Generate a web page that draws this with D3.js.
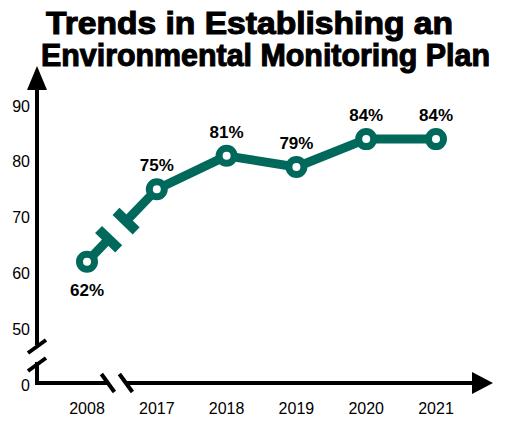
<!DOCTYPE html>
<html>
<head>
<meta charset="utf-8">
<script src="https://cdn.jsdelivr.net/npm/d3@7"></script>
<style>
  html, body { margin: 0; padding: 0; background: #fff; }
  text { font-family: "Liberation Sans", Arial, sans-serif; }
</style>
</head>
<body>
<svg id="chart" width="518" height="429"></svg>
<script>
var years = ["2008", "2017", "2018", "2019", "2020", "2021"];
var values = [62, 75, 81, 79, 84, 84];
var yTicks = [50, 60, 70, 80, 90];
var titleLines = ["Trends in Establishing an", "Environmental Monitoring Plan"];

var teal = "#00695b";

var svg = d3.select("#chart");

var x = d3.scalePoint()
    .domain(years)
    .range([87, 436]);

var y = d3.scaleLinear()
    .domain([50, 90])
    .range([328.5, 105.7]);

var axisX = 37, axisY = 383;

// title
svg.append("text")
    .attr("x", 46).attr("y", 34)
    .attr("textLength", 407).attr("lengthAdjust", "spacingAndGlyphs")
    .style("font-size", "31px").style("font-weight", "bold")
    .style("stroke", "#000").style("stroke-width", 1.1)
    .text(titleLines[0]);
svg.append("text")
    .attr("x", 41).attr("y", 66)
    .attr("textLength", 449).attr("lengthAdjust", "spacingAndGlyphs")
    .style("font-size", "31px").style("font-weight", "bold")
    .style("stroke", "#000").style("stroke-width", 1.1)
    .text(titleLines[1]);

// y axis with break
var axes = svg.append("g")
    .attr("stroke", "#000")
    .attr("stroke-width", 4)
    .attr("fill", "none");

axes.append("line")
    .attr("x1", axisX).attr("x2", axisX)
    .attr("y1", 88).attr("y2", 345);
axes.append("line")
    .attr("x1", axisX).attr("x2", axisX)
    .attr("y1", 362).attr("y2", axisY + 2);

[346, 364].forEach(function(cy) {
    axes.append("line")
        .attr("x1", axisX - 9).attr("y1", cy + 7)
        .attr("x2", axisX + 9).attr("y2", cy - 6);
});

svg.append("path")
    .attr("d", "M" + axisX + ",66 L" + (axisX - 10) + ",90 L" + (axisX + 10) + ",90 Z")
    .attr("fill", "#000");

// x axis with break
var xBreak = (x(years[0]) + x(years[1])) / 2 - 5;
axes.append("line")
    .attr("x1", axisX - 2).attr("x2", xBreak - 9)
    .attr("y1", axisY).attr("y2", axisY);
axes.append("line")
    .attr("x1", xBreak + 9).attr("x2", 476)
    .attr("y1", axisY).attr("y2", axisY);

[xBreak - 9, xBreak + 9].forEach(function(cx) {
    axes.append("line")
        .attr("x1", cx - 6.5).attr("y1", axisY - 9)
        .attr("x2", cx + 6.5).attr("y2", axisY + 9);
});

svg.append("path")
    .attr("d", "M493," + axisY + " L472," + (axisY - 11) + " L472," + (axisY + 11) + " Z")
    .attr("fill", "#000");

// tick labels
svg.append("g").selectAll("text")
    .data(yTicks)
    .join("text")
    .attr("x", 30)
    .attr("y", function(d) { return y(d) + 6; })
    .attr("text-anchor", "end")
    .style("font-size", "16px")
    .text(function(d) { return d; });

svg.append("text")
    .attr("x", 30).attr("y", axisY + 8)
    .attr("text-anchor", "end")
    .style("font-size", "16px")
    .text("0");

svg.append("g").selectAll("text")
    .data(years)
    .join("text")
    .attr("x", function(d) { return x(d); })
    .attr("y", 414)
    .attr("text-anchor", "middle")
    .style("font-size", "16px")
    .text(function(d) { return d; });

// data line with break between first two points
var pts = years.map(function(d, i) { return [x(d), y(values[i])]; });

function lerp(a, b, t) { return [a[0] + (b[0] - a[0]) * t, a[1] + (b[1] - a[1]) * t]; }

var b1 = lerp(pts[0], pts[1], 0.31);
var b2 = lerp(pts[0], pts[1], 0.56);

var line = d3.line();

var g = svg.append("g")
    .attr("stroke", teal)
    .attr("fill", "none")
    .attr("stroke-width", 9);

g.append("path").attr("d", line([pts[0], b1]));
g.append("path").attr("d", line([b2].concat(pts.slice(1))))
    .attr("stroke-linejoin", "round");

var dx = pts[1][0] - pts[0][0], dy = pts[1][1] - pts[0][1];
var len = Math.sqrt(dx * dx + dy * dy);
var px = -dy / len * 14, py = dx / len * 14;
[b1, b2].forEach(function(b) {
    g.append("line")
        .attr("x1", b[0] - px).attr("y1", b[1] - py)
        .attr("x2", b[0] + px).attr("y2", b[1] + py)
        .attr("stroke-width", 10);
});

svg.append("g").selectAll("circle")
    .data(pts)
    .join("circle")
    .attr("cx", function(d) { return d[0]; })
    .attr("cy", function(d) { return d[1]; })
    .attr("r", 7.5)
    .attr("fill", "#fff")
    .attr("stroke", teal)
    .attr("stroke-width", 7);

// value labels
svg.append("g").selectAll("text")
    .data(values)
    .join("text")
    .attr("x", function(d, i) { return x(years[i]); })
    .attr("y", function(d, i) { return i === 0 ? y(d) + 34 : y(d) - 18; })
    .attr("text-anchor", "middle")
    .style("font-size", "17px")
    .style("font-weight", "bold")
    .text(function(d) { return d + "%"; });
</script>
</body>
</html>
